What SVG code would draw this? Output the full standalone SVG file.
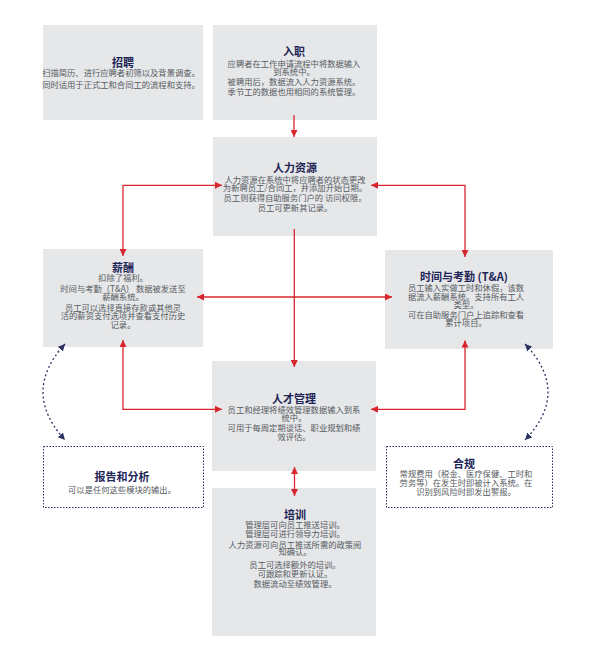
<svg xmlns="http://www.w3.org/2000/svg" width="598" height="658" viewBox="0 0 598 658">
<style>
.box{fill:#e6e7e9}
.dbox{fill:#fff;stroke:#2b3160;stroke-width:1;stroke-dasharray:1.5 1.5}
.t{font-family:"Noto Sans CJK SC","Noto Sans",sans-serif;font-size:11px;font-weight:bold;fill:#1d2456;text-anchor:middle}
.b{font-family:"Noto Sans CJK SC","Noto Sans",sans-serif;font-size:8.3px;fill:#555a60;text-anchor:middle}
.red{fill:none;stroke:#d9262e;stroke-width:1.3;marker-end:url(#ar)}
.red2{fill:none;stroke:#d9262e;stroke-width:1.3;marker-end:url(#ar);marker-start:url(#ar)}
.arc{fill:none;stroke:#2b3160;stroke-width:1.3;stroke-dasharray:2 2.5;marker-end:url(#an);marker-start:url(#an)}
</style>
<defs>
<marker id="ar" viewBox="0 0 10 10" refX="10" refY="5" markerWidth="7" markerHeight="7" markerUnits="userSpaceOnUse" orient="auto-start-reverse"><path d="M0,0 L10,5 L0,10 z" fill="#d9262e"/></marker>
<marker id="an" viewBox="0 0 10 10" refX="10" refY="5" markerWidth="7" markerHeight="7" markerUnits="userSpaceOnUse" orient="auto-start-reverse"><path d="M0,0 L10,5 L0,10 z" fill="#2b3160"/></marker>
</defs>
<rect width="598" height="658" fill="#fff"/>

<g id="recruit">
<rect class="box" x="43" y="25" width="160" height="95"/>
<text class="t" x="123" y="67">招聘</text>
<text class="b"><tspan x="121" y="76">扫描简历、进行应聘者初筛以及背景调查。</tspan><tspan x="121" y="88">同时适用于正式工和合同工的流程和支持。</tspan></text>
</g>

<g id="onboard">
<rect class="box" x="213" y="25" width="164" height="95"/>
<text class="t" x="294" y="56">入职</text>
<text class="b"><tspan x="294" y="67.3">应聘者在工作申请流程中将数据输入</tspan><tspan x="294" y="74.7">到系统中。</tspan><tspan x="294" y="84.7">被聘用后，数据流入人力资源系统。</tspan><tspan x="294" y="94.7">季节工的数据也用相同的系统管理。</tspan></text>
</g>

<g id="hr">
<rect class="box" x="213" y="137" width="164" height="99"/>
<text class="t" x="295" y="172">人力资源</text>
<text class="b"><tspan x="295" y="183">人力资源在系统中将应聘者的状态更改</tspan><tspan x="295" y="191.3">为新聘员工/合同工，并添加开始日期。</tspan><tspan x="295" y="201.3">员工则获得自助服务门户的 访问权限。</tspan><tspan x="295" y="211.3">员工可更新其记录。</tspan></text>
</g>

<g id="payroll">
<rect class="box" x="43" y="249" width="160" height="98"/>
<text class="t" x="123" y="272">薪酬</text>
<text class="b"><tspan x="123" y="281.3">扣除了福利。</tspan><tspan x="123" y="292">时间与考勤（T&amp;A） 数据被发送至</tspan><tspan x="123" y="300.3">薪酬系统。</tspan><tspan x="123" y="310.7">员工可以选择直接存款或其他灵</tspan><tspan x="123" y="319">活的薪资支付选项并查看支付历史</tspan><tspan x="123" y="328">记录。</tspan></text>
</g>

<g id="ta">
<rect class="box" x="385" y="250" width="168" height="99"/>
<text class="t" x="464" y="281">时间与考勤 (T&amp;A)</text>
<text class="b"><tspan x="466" y="291.3">员工输入实做工时和休假，该数</tspan><tspan x="466" y="300.3">据流入薪酬系统。支持所有工人</tspan><tspan x="466" y="308">类型。</tspan><tspan x="466" y="318">可在自助服务门户上追踪和查看</tspan><tspan x="466" y="326.3">累计项目。</tspan></text>
</g>

<g id="talent">
<rect class="box" x="212" y="361" width="164" height="110"/>
<text class="t" x="294" y="403">人才管理</text>
<text class="b"><tspan x="294" y="413">员工和经理将绩效管理数据输入到系</tspan><tspan x="294" y="420.7">统中。</tspan><tspan x="294" y="431.3">可用于每周定期谈话、职业规划和绩</tspan><tspan x="294" y="440.3">效评估。</tspan></text>
</g>

<g id="reporting">
<rect class="dbox" x="43.5" y="446.5" width="160" height="61"/>
<text class="t" x="122" y="480.5">报告和分析</text>
<text class="b" x="122" y="493">可以是任何这些模块的输出。</text>
</g>

<g id="compliance">
<rect class="dbox" x="386.5" y="446.5" width="166" height="61"/>
<text class="t" x="464" y="468">合规</text>
<text class="b"><tspan x="466" y="477.3">常规费用（税金、医疗保健、工时和</tspan><tspan x="466" y="486.3">劳务等）在发生时即被计入系统。在</tspan><tspan x="466" y="495.3">识别到风险时即发出警报。</tspan></text>
</g>

<g id="training">
<rect class="box" x="212" y="488" width="164" height="148"/>
<text class="t" x="295" y="519">培训</text>
<text class="b"><tspan x="295" y="528">管理层可向员工推送培训。</tspan><tspan x="295" y="537.3">管理层可进行领导力培训。</tspan><tspan x="295" y="548">人力资源可向员工推送所需的政策阅</tspan><tspan x="295" y="555.3">知确认。</tspan><tspan x="295" y="568">员工可选择额外的培训。</tspan><tspan x="295" y="577.3">可跟踪和更新认证。</tspan><tspan x="295" y="587.3">数据流动至绩效管理。</tspan></text>
</g>

<g id="connectors">
<path class="red" d="M294,115 L294,137"/>
<path class="red" d="M294.3,229 L294.3,367"/>
<path class="red2" d="M197,297 L392,297"/>
<path class="red2" d="M123,256 L123,185.3 L222,185.3"/>
<path class="red2" d="M465,257 L465,185.3 L371,185.3"/>
<path class="red2" d="M123,340 L123,409.3 L222,409.3"/>
<path class="red2" d="M465,340.5 L465,409.3 L371,409.3"/>
<path class="red2" d="M294.5,467 L294.5,496"/>
<path class="arc" d="M65,344 Q21,392 65,440"/>
<path class="arc" d="M525,344 Q571,392 525,440"/>
</g>
</svg>
